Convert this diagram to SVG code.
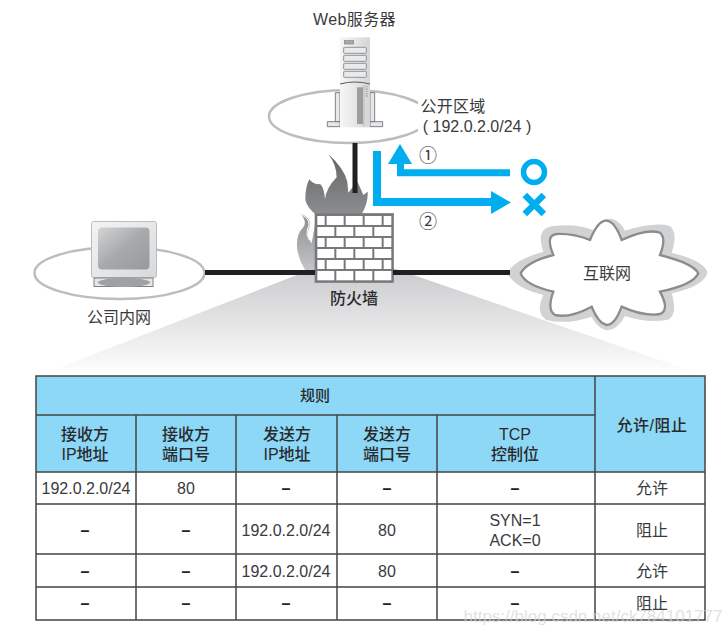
<svg xmlns="http://www.w3.org/2000/svg" width="724" height="633" viewBox="0 0 724 633">
<style>
text{font-family:"Liberation Sans","Noto Sans CJK SC",sans-serif;font-size:16px;fill:#3a3a3c;text-anchor:middle}
.b{font-weight:500;fill:#2a2a2c}
.s{font-size:15px}
.d{font-weight:700;fill:#222}
.grid{stroke:#444;stroke-width:1.5;fill:none}
.zone{fill:#fff;stroke:#bcbdbf;stroke-width:2.5}
.wire{stroke:#231f20;stroke-width:5;fill:none}
.blue{fill:#00aeef}
.bs{stroke:#00aeef;fill:none}
.brick{fill:#fff}
.hd{fill:#8dd7f7}
</style>
<defs>
<linearGradient id="fan" x1="0" y1="0" x2="0" y2="1"><stop offset="0" stop-color="#c9cacc"/><stop offset="1" stop-color="#ffffff"/></linearGradient>
<linearGradient id="flame" x1="0" y1="0" x2="0" y2="1"><stop offset="0" stop-color="#636466"/><stop offset=".5" stop-color="#8f9092"/><stop offset="1" stop-color="#d0d1d3"/></linearGradient>
<linearGradient id="screen" x1="0" y1="0" x2="1" y2="1"><stop offset="0" stop-color="#d2d3d5"/><stop offset=".5" stop-color="#a8a9ab"/><stop offset="1" stop-color="#98999b"/></linearGradient>
<linearGradient id="case" x1="0" y1="0" x2="1" y2="1"><stop offset="0" stop-color="#f4f4f5"/><stop offset="1" stop-color="#d8d9da"/></linearGradient>
<linearGradient id="tower" x1="0" y1="0" x2="1" y2="0"><stop offset="0" stop-color="#f6f6f6"/><stop offset="1" stop-color="#d4d5d6"/></linearGradient>
</defs>
<polygon points="315,268 393,268 706,376 38,376" fill="url(#fan)"/>
<g id="public-zone">
<ellipse class="zone" cx="349" cy="116.500" rx="80" ry="26.500"/>
<rect x="418" y="94" width="124" height="46" fill="#fff"/>
<text x="453" y="112" style="letter-spacing:.3px">公开区域</text>
<text x="477" y="132">( 192.0.2.0/24 )</text>
</g>
<g id="web-server">
<text x="354.500" y="25" style="letter-spacing:.4px">Web服务器</text>
<g transform="translate(260,0) scale(.3333)">
<path d="M226 278H240V365H226ZM330 278H344V365H330ZM202 365H240V380H202ZM330 365H368V380H330Z" fill="#e6e7e8" stroke="#808285" stroke-width="3"/>
<rect x="240" y="112" width="90" height="270" fill="url(#tower)"/>
<path d="M240 252Q285 240 330 252" fill="none" stroke="#58595b" stroke-width="3"/>
<rect x="253" y="122" width="28" height="10" fill="#a7a9ac" stroke="#808285" stroke-width="2"/>
<g fill="#e9eaeb" stroke="#939598" stroke-width="3">
<rect x="251" y="142" width="68" height="18" rx="2"/>
<rect x="251" y="166" width="68" height="18" rx="2"/>
<rect x="251" y="190" width="68" height="18" rx="2"/>
<rect x="251" y="214" width="68" height="18" rx="2"/>
</g>
<path d="M294 262V372M300 262V372M306 262V372" stroke="#58595b" stroke-width="3" fill="none"/>
<path d="M312 255V380" stroke="#a7a9ac" stroke-width="2"/>
<path d="M320 258V292" stroke="#a7a9ac" stroke-width="6" stroke-dasharray="4 3"/>
</g>
</g>
<g id="firewall">
<g transform="translate(270,140) scale(.3333)">
<path d="M135 425Q92 385 82 330Q76 285 100 262Q112 245 92 222Q125 232 118 262Q106 285 125 310L140 225Q112 205 106 180Q106 140 118 118Q130 135 150 132Q162 140 165 178Q168 145 200 112Q200 75 175 42Q222 85 232 125L235 158Q248 140 262 125Q272 145 280 165L293 155Q295 190 275 222Z" fill="url(#flame)"/>
<path d="M95 225Q128 240 112 270Q108 285 118 300" fill="none" stroke="#fff" stroke-width="3"/>
<rect x="135" y="220" width="236" height="208" fill="#77787b" stroke="#808285" stroke-width="2"/>
<g class="brick">
<rect x="142" y="228" width="22" height="27"/><rect x="170" y="228" width="51" height="27"/><rect x="227" y="228" width="51" height="27"/><rect x="284" y="228" width="51" height="27"/><rect x="341" y="228" width="23" height="27"/>
<rect x="142" y="261" width="51" height="27"/><rect x="199" y="261" width="51" height="27"/><rect x="256" y="261" width="51" height="27"/><rect x="313" y="261" width="51" height="27"/>
<rect x="142" y="294" width="22" height="27"/><rect x="170" y="294" width="51" height="27"/><rect x="227" y="294" width="51" height="27"/><rect x="284" y="294" width="51" height="27"/><rect x="341" y="294" width="23" height="27"/>
<rect x="142" y="327" width="51" height="27"/><rect x="199" y="327" width="51" height="27"/><rect x="256" y="327" width="51" height="27"/><rect x="313" y="327" width="51" height="27"/>
<rect x="142" y="360" width="22" height="27"/><rect x="170" y="360" width="51" height="27"/><rect x="227" y="360" width="51" height="27"/><rect x="284" y="360" width="51" height="27"/><rect x="341" y="360" width="23" height="27"/>
<rect x="142" y="393" width="51" height="28"/><rect x="199" y="393" width="51" height="28"/><rect x="256" y="393" width="51" height="28"/><rect x="313" y="393" width="51" height="28"/>
</g>
</g>
<text x="354" y="304" class="b">防火墙</text>
</g>
<g id="intranet">
<ellipse class="zone" cx="119.500" cy="273" rx="85" ry="26"/>
<rect x="91.500" y="221.500" width="65" height="56" rx="2" fill="url(#case)" stroke="#bcbdbf"/>
<rect x="98" y="227.500" width="51.500" height="42" rx="4" fill="url(#screen)"/>
<rect x="94" y="278" width="59" height="8.500" fill="#e6e7e8" stroke="#808285"/>
<ellipse cx="124" cy="282.500" rx="26" ry="4.500" fill="#a0a1a3"/>
<text x="119" y="323">公司内网</text>
</g>
<g id="internet">
<g transform="translate(490,210) scale(.3333)">
<path d="M52 190Q70 150 160 125Q135 55 190 48Q260 40 310 60Q335 15 375 30Q395 40 405 62Q490 35 540 48Q565 70 545 128Q650 155 652 190Q640 230 545 250Q565 320 530 330Q470 340 405 318Q380 365 345 360Q320 350 305 320Q230 345 170 330Q135 310 160 255Q75 235 52 190Z" fill="#d1d2d4"/>
<path d="M92 190Q110 155 190 135Q165 75 200 72Q250 70 300 90Q325 30 350 32Q375 35 395 90Q470 55 510 68Q530 85 510 135Q610 160 625 190Q610 225 510 245Q540 300 510 312Q460 320 395 290Q375 345 350 345Q325 340 305 290Q240 325 195 315Q170 300 190 245Q105 225 92 190Z" fill="#fff" stroke="#8a8c8e" stroke-width="7"/>
</g>
<text x="607" y="279">互联网</text>
</g>
<g id="connectors">
<path class="wire" d="M205 272.500H315M393 272.500H510M355 143V193"/>
<path class="bs" stroke-width="7" d="M510 172.700H400.500V162"/>
<polygon class="blue" points="400,144 412,164 388,164"/>
<path class="bs" stroke-width="8" d="M377 151V202H492"/>
<polygon class="blue" points="511,202.500 491,191 491,214"/>
</g>
<g id="marks">
<text x="428" y="162" style="font-size:18px">①</text>
<text x="428" y="228" style="font-size:18px">②</text>
<circle cx="534" cy="172" r="10.500" class="bs" stroke-width="5.500"/>
<path d="M524.800 195L543.800 214M543.800 195L524.800 214" class="bs" stroke-width="6.500"/>
</g>
<g id="table">
<rect class="hd" x="36" y="376" width="669" height="96"/>
<path class="grid" d="M36 376H705V620H36ZM36 415H595M36 472H705M36 504H705M36 554H705M36 587H705M136 415V620M236 415V620M337 415V620M437 415V620M595 376V620"/>
<text x="315" y="401" class="b s">规则</text>
<text x="85" y="440" class="b">接收方</text><text x="85" y="460" class="b">IP地址</text>
<text x="186" y="440" class="b">接收方</text><text x="186" y="460" class="b">端口号</text>
<text x="287" y="440" class="b">发送方</text><text x="287" y="460" class="b">IP地址</text>
<text x="387" y="440" class="b">发送方</text><text x="387" y="460" class="b">端口号</text>
<text x="515" y="440" class="b">TCP</text><text x="515" y="460" class="b">控制位</text>
<text x="652" y="431" class="b" style="letter-spacing:.5px">允许/阻止</text>
<text x="86" y="494">192.0.2.0/24</text><text x="186" y="494">80</text><text x="286" y="494" class="d">–</text><text x="387" y="494" class="d">–</text><text x="515" y="494" class="d">–</text><text x="652" y="494">允许</text>
<text x="85" y="536" class="d">–</text><text x="186" y="536" class="d">–</text><text x="286" y="536">192.0.2.0/24</text><text x="387" y="536">80</text><text x="515" y="526">SYN=1</text><text x="515" y="546">ACK=0</text><text x="652" y="536">阻止</text>
<text x="85" y="577" class="d">–</text><text x="186" y="577" class="d">–</text><text x="286" y="577">192.0.2.0/24</text><text x="387" y="577">80</text><text x="515" y="577" class="d">–</text><text x="652" y="577">允许</text>
<text x="85" y="609" class="d">–</text><text x="186" y="609" class="d">–</text><text x="286" y="609" class="d">–</text><text x="387" y="609" class="d">–</text><text x="515" y="609" class="d">–</text><text x="652" y="609">阻止</text>
</g>
<text x="593" y="622" style="font-size:17px;fill:#d4d4d4;fill-opacity:.7">https://blog.csdn.net/ck784101777</text>
</svg>
